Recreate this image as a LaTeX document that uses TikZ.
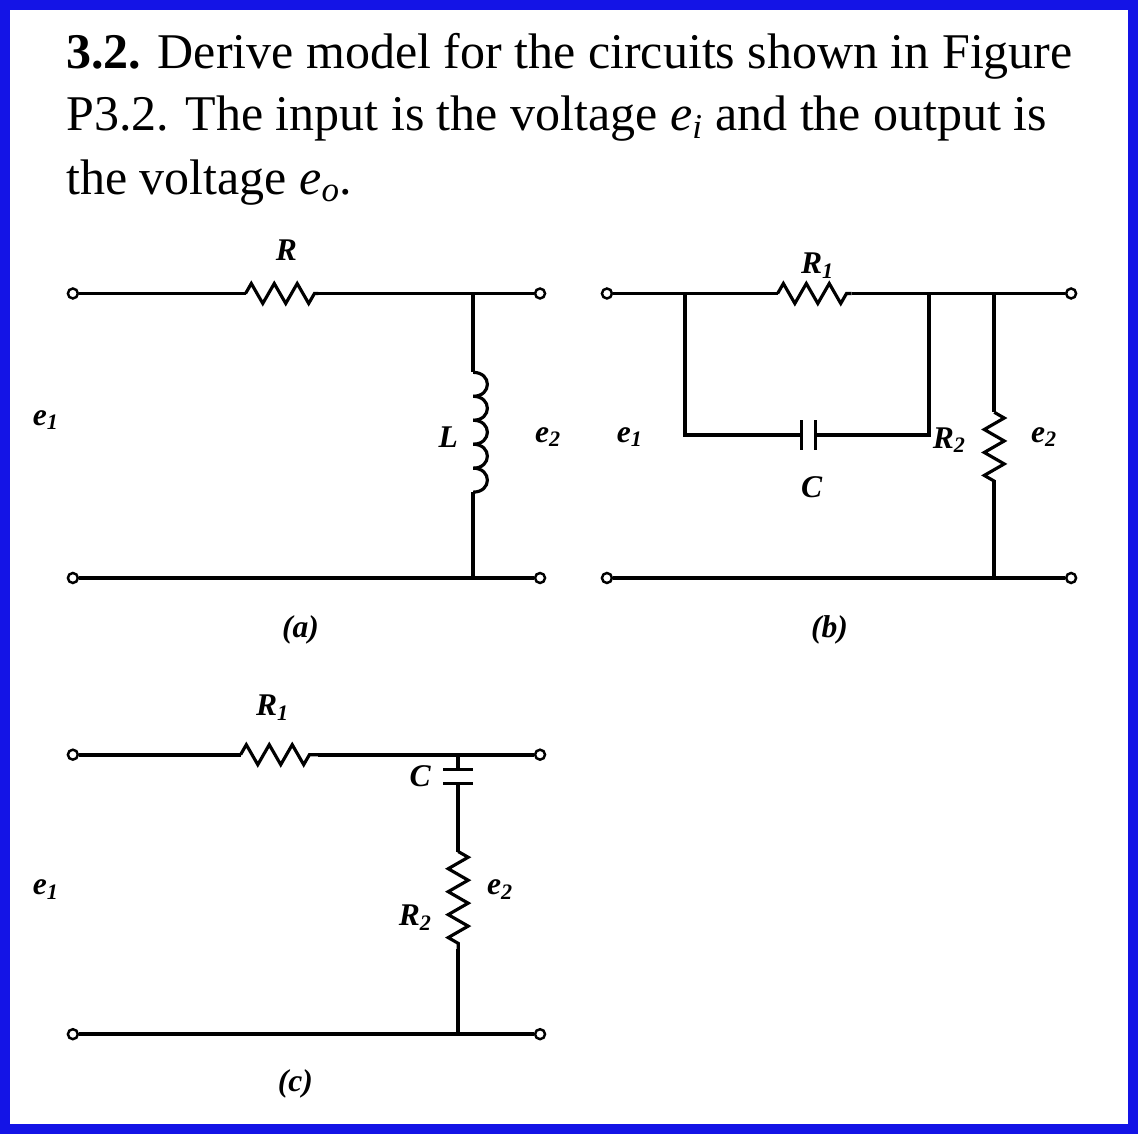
\documentclass[tikz,border=0pt]{standalone}
\usepackage{fontspec}
\setmainfont{Liberation Serif}
\usetikzlibrary{decorations.pathmorphing}
\newcommand{\sbx}[1]{\textsubscript{#1}}
\tikzset{
 wire/.style={line width=2.2pt},
 term/.style={circle,draw,line width=1.4pt,fill=white,inner sep=0pt,minimum size=0.2cm},
 res/.style={line width=1.8pt,decorate,decoration={zigzag,segment length=0.46cm,amplitude=0.2cm}},
 lbl/.style={font=\fontsize{18}{20}\selectfont\bfseries\itshape},
 ttl/.style={font=\fontsize{28.5}{32}\selectfont,anchor=west,inner sep=0pt}
}
\begin{document}
\begin{tikzpicture}[x=0.02cm,y=-0.02cm]
\fill[white] (0,0) rectangle (1138,1134);
\draw[line width=0.2cm,draw={rgb,255:red,20;green,20;blue,230}] (4,4) rectangle (1134,1130);
% title
\node[ttl] (t1) at (65,55) {\textbf{3.2.} Derive model for the circuits shown in Figure};
\node[ttl] (t2) at (65,118) {P3.2. The input is the voltage \textit{e\textsubscript{i}} and the output is};
\node[ttl] (t3) at (65,182) {the voltage \textit{e\textsubscript{o}}.};
% (a)
\node[term] (a1) at (72,293) {};
\node[term] (a2) at (540,293) {};
\node[term] (a3) at (72,578) {};
\node[term] (a4) at (540,578) {};
\coordinate (ar1) at (245,293); \coordinate (ar2) at (318,293);
\coordinate (aj) at (473,293); \coordinate (ab) at (473,578);
\coordinate (al1) at (473,372); \coordinate (al2) at (473,492);
\draw[wire] (a1) -- (ar1); \draw[res] (ar1) -- (ar2); \draw[wire] (ar2) -- (a2);
\draw[wire] (aj) -- (al1);
\foreach \k in {0,1,2,3,4}
  \draw[line width=1.8pt] (473,372+24*\k) .. controls (492,372+24*\k) and (492,396+24*\k) .. (473,396+24*\k);
\draw[wire] (al2) -- (ab);
\draw[wire] (a3) -- (a4);
\node[lbl] (aR) at (286,250) {R};
\node[lbl] (aL) at (448,437) {L};
\node[lbl] (ae2) at (548,437) {e\sbx{2}};
\node[lbl] (ae1) at (45,420) {e\sbx{1}};
\node[lbl] (aa) at (300,630) {(a)};
% (b)
\node[term] (b1) at (607,293) {};
\node[term] (b2) at (1072,293) {};
\node[term] (b3) at (607,578) {};
\node[term] (b4) at (1072,578) {};
\coordinate (br1) at (778,293); \coordinate (br2) at (852,293);
\coordinate (bl) at (685,293); \coordinate (bll) at (685,435);
\coordinate (brr) at (930,293); \coordinate (brl) at (930,435);
\coordinate (bc1) at (802,435); \coordinate (bc2) at (816,435);
\coordinate (bj) at (995,293); \coordinate (bq1) at (995,412); \coordinate (bq2) at (995,482); \coordinate (bb) at (995,578);
\draw[wire] (b1) -- (br1); \draw[res] (br1) -- (br2); \draw[wire] (br2) -- (b2);
\draw[wire] (bl) -- (bll) -- (bc1); \draw[wire] (bc2) -- (brl) -- (brr);
\draw[line width=1.6pt] (802,420) -- (802,450) (816,420) -- (816,450);
\draw[wire] (bj) -- (bq1); \draw[res] (bq1) -- (bq2); \draw[wire] (bq2) -- (bb);
\draw[wire] (b3) -- (b4);
\node[lbl] (bR1) at (818,265) {R\sbx{1}};
\node[lbl] (bC) at (812,487) {C};
\node[lbl] (bR2) at (950,440) {R\sbx{2}};
\node[lbl] (be2) at (1045,437) {e\sbx{2}};
\node[lbl] (be1) at (630,437) {e\sbx{1}};
\node[lbl] (bb2) at (830,630) {(b)};
% (c)
\node[term] (c1) at (72,755) {};
\node[term] (c2) at (540,755) {};
\node[term] (c3) at (72,1035) {};
\node[term] (c4) at (540,1035) {};
\coordinate (cr1) at (240,755); \coordinate (cr2) at (318,755);
\coordinate (cj) at (458,755); \coordinate (cc1) at (458,770); \coordinate (cc2) at (458,784);
\coordinate (cq1) at (458,852); \coordinate (cq2) at (458,950); \coordinate (cb) at (458,1035);
\draw[wire] (c1) -- (cr1); \draw[res] (cr1) -- (cr2); \draw[wire] (cr2) -- (c2);
\draw[wire] (cj) -- (cc1); \draw[line width=1.6pt] (443,770) -- (473,770) (443,784) -- (473,784);
\draw[wire] (cc2) -- (cq1); \draw[res] (cq1) -- (cq2); \draw[wire] (cq2) -- (cb);
\draw[wire] (c3) -- (c4);
\node[lbl] (cR1) at (272,708) {R\sbx{1}};
\node[lbl] (cC) at (420,777) {C};
\node[lbl] (cR2) at (415,918) {R\sbx{2}};
\node[lbl] (ce2) at (500,890) {e\sbx{2}};
\node[lbl] (ce1) at (45,890) {e\sbx{1}};
\node[lbl] (ccc) at (295,1085) {(c)};
\end{tikzpicture}
\end{document}
